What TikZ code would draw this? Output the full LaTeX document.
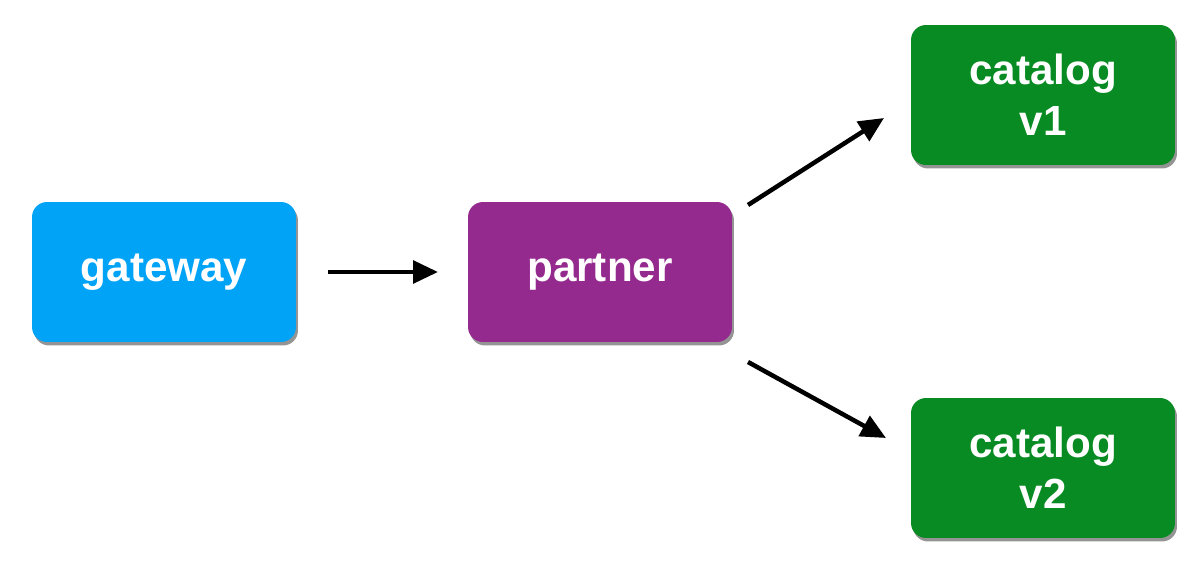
\documentclass[tikz,border=0pt]{standalone}
\usepackage{fontspec}
\setmainfont{Liberation Sans}
\usetikzlibrary{shadows,arrows.meta}
\definecolor{gwblue}{HTML}{00A3F5}
\definecolor{ptpurple}{HTML}{952A8E}
\definecolor{catgreen}{HTML}{078B22}
\tikzset{
  svc/.style={rounded corners=0.3cm, minimum width=5.28cm, minimum height=2.8cm, text=white,
    font=\fontsize{24}{29}\selectfont\bfseries, align=center, inner sep=0pt,
    drop shadow={opacity=0.6, shadow xshift=0.04cm, shadow yshift=-0.07cm, fill=black!70}},
  conn/.style={line width=0.09cm, -{Triangle[length=0.5cm,width=0.45cm]}}
}
\begin{document}
\begin{tikzpicture}[x=0.02cm,y=-0.02cm]
\useasboundingbox (0,0) rectangle (1200,564);
\node[svc, fill=gwblue] (gw) at (164,272) {gateway};
\node[svc, fill=ptpurple] (pt) at (600,272) {partner};
\node[svc, fill=catgreen] (c1) at (1043,95) {catalog\\v1};
\node[svc, fill=catgreen] (c2) at (1043,468) {catalog\\v2};
\coordinate (a1) at (328,272); \coordinate (a2) at (438,272);
\coordinate (b1) at (748,205); \coordinate (b2) at (884,118);
\coordinate (d1) at (748,362); \coordinate (d2) at (886,438);
\draw[conn] (a1) -- (a2);
\draw[conn] (b1) -- (b2);
\draw[conn] (d1) -- (d2);
\end{tikzpicture}
\end{document}
